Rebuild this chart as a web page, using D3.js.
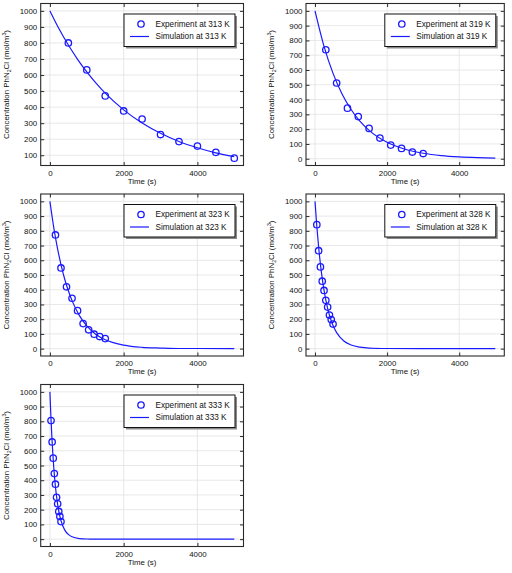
<!DOCTYPE html>
<html>
<head>
<meta charset="utf-8">
<script src="https://cdn.jsdelivr.net/npm/d3@7"></script>
<style>
  body { margin: 0; background: #fff; }
  svg { display: block; font-family: "Liberation Sans", Arial, sans-serif; }
</style>
</head>
<body>
<div id="main"></div>
<script>
// Data
const temps = [313, 319, 323, 328, 333];

const exp313Time = [500, 1000, 1500, 2000, 2500, 3000, 3500, 4000, 4500, 5000];
const exp313Conc = [800, 632, 470, 376, 326, 229, 185, 157, 118, 82];
const exp319Time = [300, 600, 900, 1200, 1500, 1800, 2100, 2400, 2700, 3000];
const exp319Conc = [737, 512, 342, 285, 205, 140, 92, 70, 45, 35];
const exp323Time = [150, 300, 450, 600, 750, 900, 1050, 1200, 1350, 1500];
const exp323Conc = [772, 548, 420, 342, 258, 170, 128, 98, 82, 68];
const exp328Time = [50, 100, 150, 200, 250, 300, 350, 400, 450, 500];
const exp328Conc = [842, 665, 555, 458, 395, 328, 282, 228, 197, 167];
const exp333Time = [30, 60, 90, 120, 150, 180, 210, 240, 270, 300];
const exp333Conc = [805, 660, 550, 445, 373, 284, 240, 188, 154, 119];

const sim313Time = [0, 250, 500, 750, 1000, 1250, 1500, 2000, 2500, 3000, 3500, 4000, 4500, 5000];
const sim313Conc = [1000, 887, 787, 698, 619, 549, 487, 383, 301, 237, 186, 147, 115, 91];
const sim319Time = [0, 250, 500, 750, 1000, 1250, 1500, 2000, 2500, 3000, 3500, 4000, 4500, 5000];
const sim319Conc = [1000, 760, 577, 438, 333, 253, 192, 111, 64, 37, 21, 12, 7, 4];
const sim323Time = [0, 100, 200, 300, 400, 500, 600, 800, 1000, 1250, 1500, 2000, 2500, 3000, 3500, 4000, 5000];
const sim323Conc = [1000, 829, 688, 571, 473, 393, 326, 224, 154, 96, 60, 24, 9, 4, 1, 1, 0];
const sim328Time = [0, 50, 100, 150, 200, 250, 300, 400, 500, 600, 800, 1000, 1250, 1500, 2000, 3000, 5000];
const sim328Conc = [1000, 831, 691, 574, 477, 397, 330, 228, 157, 109, 52, 25, 10, 4, 1, 0, 0];
const sim333Time = [0, 25, 50, 75, 100, 150, 200, 250, 300, 400, 500, 600, 800, 1000, 1500, 5000];
const sim333Conc = [1000, 841, 708, 596, 502, 355, 252, 178, 126, 63, 32, 16, 4, 1, 0, 0];

const xTicks = [0, 2000, 4000];
const yTicks = [0, 100, 200, 300, 400, 500, 600, 700, 800, 900, 1000];
const xLabel = "Time (s)";

const panels = [
  { T: 313, et: exp313Time, ec: exp313Conc, st: sim313Time, sc: sim313Conc },
  { T: 319, et: exp319Time, ec: exp319Conc, st: sim319Time, sc: sim319Conc },
  { T: 323, et: exp323Time, ec: exp323Conc, st: sim323Time, sc: sim323Conc },
  { T: 328, et: exp328Time, ec: exp328Conc, st: sim328Time, sc: sim328Conc },
  { T: 333, et: exp333Time, ec: exp333Conc, st: sim333Time, sc: sim333Conc },
];

// Layout config
const width = 512;
const height = 573;
const cellW = 256;
const cellH = 190.5;
const cols = [
  { left: 40.7, right: 243.5, yLabelX: 6.5 },
  { left: 50, right: 248.3, yLabelX: 15.5 },
];
const frameTop = 3.5;
const frameBottom = 165.5;
const blue = "#1a1aff";
const textColor = "#111";
const tickLen = 3.5;
const fontSize = "7.9px";

const svg = d3
  .select("#main")
  .append("svg")
  .attr("width", width)
  .attr("height", height);

panels.forEach((p, i) => {
  const col = cols[i % 2];
  const g = svg
    .append("g")
    .attr("transform", `translate(${(i % 2) * cellW},${Math.floor(i / 2) * cellH})`);

  // Scales (5% padding like the original)
  const x = d3.scaleLinear().domain([-250, 5250]).range([col.left, col.right]);
  const all = p.ec.concat(p.sc);
  const lo = d3.min(all);
  const hi = d3.max(all);
  const pad = (hi - lo) * 0.05;
  const y = d3.scaleLinear().domain([lo - pad, hi + pad]).range([frameBottom, frameTop]);
  const yt = yTicks.filter((v) => v >= y.domain()[0] && v <= y.domain()[1]);

  // Grid
  g.append("g")
    .selectAll("line")
    .data(yt)
    .join("line")
    .attr("x1", col.left)
    .attr("x2", col.right)
    .attr("y1", (d) => y(d))
    .attr("y2", (d) => y(d))
    .attr("stroke", "#e2e2e2")
    .attr("stroke-width", 0.8);
  g.append("g")
    .selectAll("line")
    .data(xTicks)
    .join("line")
    .attr("x1", (d) => x(d))
    .attr("x2", (d) => x(d))
    .attr("y1", frameTop)
    .attr("y2", frameBottom)
    .attr("stroke", "#e2e2e2")
    .attr("stroke-width", 0.8);

  // Clip
  const clipId = `clip${i}`;
  g.append("defs")
    .append("clipPath")
    .attr("id", clipId)
    .append("rect")
    .attr("x", col.left)
    .attr("y", frameTop)
    .attr("width", col.right - col.left)
    .attr("height", frameBottom - frameTop);

  // Simulation line
  const simData = p.st.map((t, k) => [t, p.sc[k]]);
  g.append("path")
    .attr("clip-path", `url(#${clipId})`)
    .datum(simData)
    .attr("fill", "none")
    .attr("stroke", blue)
    .attr("stroke-width", 1.2)
    .attr(
      "d",
      d3
        .line()
        .curve(d3.curveMonotoneX)
        .x((d) => x(d[0]))
        .y((d) => y(d[1]))
    );

  // Experiment markers
  const expData = p.et.map((t, k) => [t, p.ec[k]]);
  g.append("g")
    .selectAll("circle")
    .data(expData)
    .join("circle")
    .attr("cx", (d) => x(d[0]))
    .attr("cy", (d) => y(d[1]))
    .attr("r", 3.2)
    .attr("fill", "none")
    .attr("stroke", blue)
    .attr("stroke-width", 1.3);

  // Frame
  g.append("rect")
    .attr("x", col.left)
    .attr("y", frameTop)
    .attr("width", col.right - col.left)
    .attr("height", frameBottom - frameTop)
    .attr("fill", "none")
    .attr("stroke", "#2a2a2a")
    .attr("stroke-width", 1.1);

  // Axes with inward ticks on all sides
  const fmt = d3.format("d");
  const axL = g.append("g").attr("transform", `translate(${col.left},0)`)
    .call(d3.axisLeft(y).tickValues(yt).tickFormat(fmt).tickSizeInner(-tickLen).tickSizeOuter(0).tickPadding(3.5));
  const axR = g.append("g").attr("transform", `translate(${col.right},0)`)
    .call(d3.axisRight(y).tickValues(yt).tickSizeInner(-tickLen).tickSizeOuter(0).tickFormat(""));
  const axB = g.append("g").attr("transform", `translate(0,${frameBottom})`)
    .call(d3.axisBottom(x).tickValues(xTicks).tickFormat(fmt).tickSizeInner(-tickLen).tickSizeOuter(0).tickPadding(4.8));
  const axT = g.append("g").attr("transform", `translate(0,${frameTop})`)
    .call(d3.axisTop(x).tickValues(xTicks).tickSizeInner(-tickLen).tickSizeOuter(0).tickFormat(""));
  [axL, axR, axB, axT].forEach((a) => {
    a.select(".domain").remove();
    a.selectAll("line").attr("stroke", "#2a2a2a");
    a.selectAll("text")
      .attr("fill", textColor)
      .style("font-size", fontSize)
      .style("font-family", '"Liberation Sans", Arial, sans-serif');
  });

  // Axis labels
  g.append("text")
    .attr("x", (col.left + col.right) / 2)
    .attr("y", 183.5)
    .attr("text-anchor", "middle")
    .attr("fill", textColor)
    .style("font-size", fontSize)
    .text(xLabel);

  const yl = g
    .append("text")
    .attr("transform", `translate(${col.yLabelX + 2.6},${(frameTop + frameBottom) / 2}) rotate(-90)`)
    .attr("text-anchor", "middle")
    .attr("fill", textColor)
    .style("font-size", fontSize);
  yl.append("tspan").text("Concentration PhN");
  yl.append("tspan").attr("dy", 1.8).style("font-size", "5.3px").text("2");
  yl.append("tspan").attr("dy", -1.8).text("Cl (mol/m");
  yl.append("tspan").attr("dy", -2.8).style("font-size", "5.3px").text("3");
  yl.append("tspan").attr("dy", 2.8).text(")");

  // Legend
  const lw = 111;
  const lh = 32.5;
  const lx = col.right - 8.5 - lw;
  const ly = frameTop + 10.5;
  const lg = g.append("g").attr("transform", `translate(${lx},${ly})`);
  lg.append("rect")
    .attr("x", 2)
    .attr("y", 2)
    .attr("width", lw)
    .attr("height", lh)
    .attr("fill", "#8a8a8a");
  lg.append("rect")
    .attr("width", lw)
    .attr("height", lh)
    .attr("fill", "#fff")
    .attr("stroke", "#111")
    .attr("stroke-width", 1);
  lg.append("circle")
    .attr("cx", 17)
    .attr("cy", 10)
    .attr("r", 3.2)
    .attr("fill", "none")
    .attr("stroke", blue)
    .attr("stroke-width", 1.3);
  lg.append("line")
    .attr("x1", 6)
    .attr("x2", 25)
    .attr("y1", 22.5)
    .attr("y2", 22.5)
    .attr("stroke", blue)
    .attr("stroke-width", 1.2);
  lg.selectAll("text")
    .data([`Experiment at ${p.T} K`, `Simulation at ${p.T} K`])
    .join("text")
    .attr("x", 31.5)
    .attr("y", (d, k) => 12.8 + k * 12.5)
    .attr("fill", textColor)
    .style("font-size", "8.2px")
    .text((d) => d);
});
</script>
</body>
</html>
